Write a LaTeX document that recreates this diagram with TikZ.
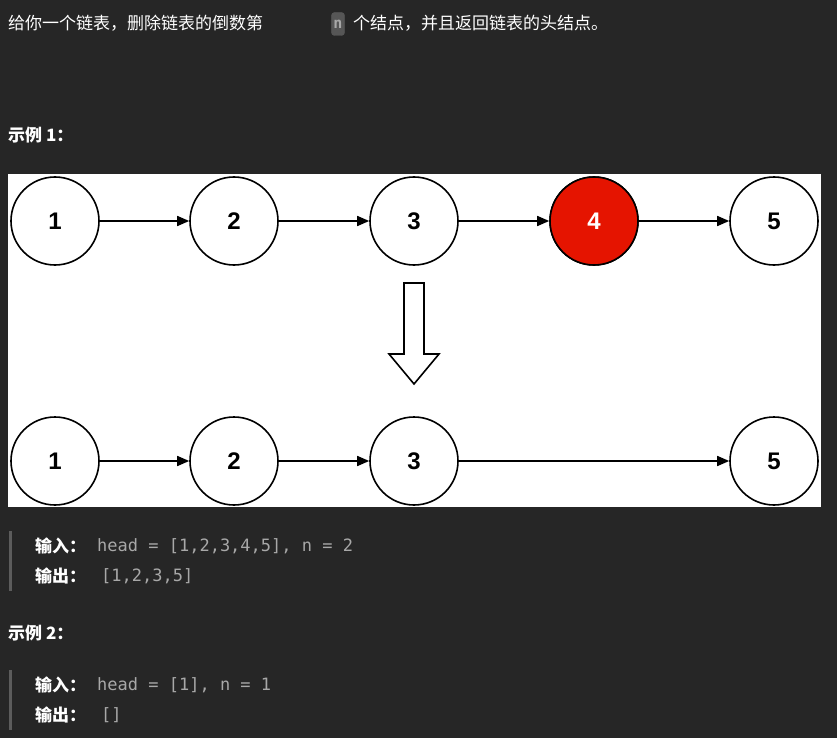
\documentclass[tikz,border=0pt]{standalone}
\usepackage{fontspec}
\setmainfont{Liberation Sans}
\newfontfamily\cjk{Noto Sans CJK SC}
\newfontfamily\cjkb{Noto Sans CJK SC}[BoldFont={* Bold}]
\setmonofont{DejaVu Sans Mono}
\usetikzlibrary{arrows.meta}
\definecolor{bg}{HTML}{262626}
\definecolor{codegray}{HTML}{A8A8A8}
\definecolor{redn}{HTML}{E51400}
\begin{document}
\begin{tikzpicture}[x=1pt,y=-1pt,
  ll/.style={circle,draw=black,line width=1.6pt,fill=white,minimum size=88pt,inner sep=0pt,font=\fontsize{24}{24}\selectfont\bfseries},
  arr/.style={-{Triangle[length=12pt,width=10pt]},line width=1.6pt},
  txt/.style={anchor=west,text=white,inner sep=0pt},
  code/.style={anchor=west,text=codegray,inner sep=0pt,font=\fontsize{17}{17}\ttfamily}]
\fill[bg] (0,0) rectangle (837,738);
\useasboundingbox (0,0) rectangle (837,738);
% top text
\node[txt,font=\fontsize{17}{17}\cjk] (t1) at (8,23) {给你一个链表，删除链表的倒数第};
\node[draw=gray!70!black,fill=white!22!bg,rounded corners=3pt,inner sep=2pt,minimum height=23pt,text=codegray,font=\fontsize{15}{15}\ttfamily\bfseries] (nb) at (338,24) {n};
\node[txt,font=\fontsize{17}{17}\cjk] (t2) at (353,23) {个结点，并且返回链表的头结点。};
\node[txt,font=\fontsize{17}{17}\cjk\bfseries] (ex1) at (8,135) {示例 1：};
% panel
\fill[white] (8,174) rectangle (821,507);
\foreach \i/\x in {1/55,2/234,3/414,4/594,5/774}{
  \node[ll] (a\i) at (\x,221) {\i};
}
\node[ll,fill=redn,text=white] at (a4) {4};
\foreach \i/\x in {1/55,2/234,3/414,5/774}{
  \node[ll] (b\i) at (\x,461) {\i};
}
\draw[arr] (a1) -- (a2);
\draw[arr] (a2) -- (a3);
\draw[arr] (a3) -- (a4);
\draw[arr] (a4) -- (a5);
\draw[arr] (b1) -- (b2);
\draw[arr] (b2) -- (b3);
\draw[arr] (b3) -- (b5);
\draw[line width=1.6pt,fill=white] (404,283) -- (424,283) -- (424,354) -- (439,354) -- (414,384) -- (389,354) -- (404,354) -- cycle;
% example 1 block
\fill[white!25!bg] (9,531) rectangle (12,591);
\node[txt,font=\fontsize{17}{17}\cjk\bfseries] (i1) at (35,546) {输入：};
\node[code] (c1) at (97,546) {head = [1,2,3,4,5], n = 2};
\node[txt,font=\fontsize{17}{17}\cjk\bfseries] (o1) at (35,576) {输出：};
\node[code] (c2) at (101,576) {[1,2,3,5]};
\node[txt,font=\fontsize{17}{17}\cjk\bfseries] (ex2) at (8,633) {示例 2：};
\fill[white!25!bg] (9,670) rectangle (12,730);
\node[txt,font=\fontsize{17}{17}\cjk\bfseries] (i2) at (35,685) {输入：};
\node[code] (c3) at (97,685) {head = [1], n = 1};
\node[txt,font=\fontsize{17}{17}\cjk\bfseries] (o2) at (35,715) {输出：};
\node[code] (c4) at (101,715) {[]};
\end{tikzpicture}
\end{document}
